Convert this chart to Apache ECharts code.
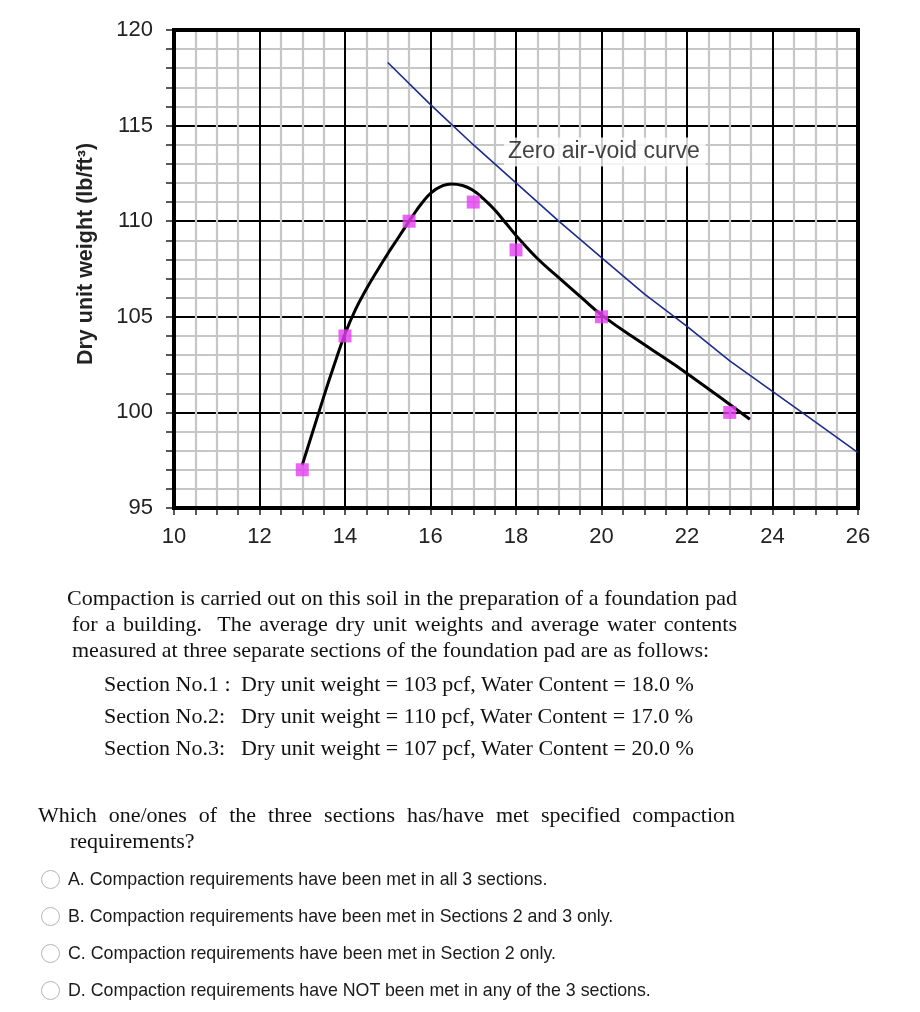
<!DOCTYPE html>
<html>
<head>
<meta charset="utf-8">
<script src="https://cdn.jsdelivr.net/npm/echarts@6/dist/echarts.min.js"></script>
<style>
  html, body { margin: 0; padding: 0; background: #fff; }
  #wrap { position: relative; width: 920px; height: 1012px; overflow: hidden; }
  #chart { position: absolute; left: 0; top: 0; width: 920px; height: 1012px; }
  .t { position: absolute; white-space: nowrap; font-family: "Liberation Serif", "Times New Roman", serif; font-size: 22px; color: #111; line-height: 26px; }
  .j { text-align: justify; text-align-last: justify; white-space: normal; }
  .opt { position: absolute; font-family: "Liberation Sans", Arial, sans-serif; font-size: 17.8px; color: #1a1a1a; white-space: nowrap; line-height: 20px; }
  .radio { position: absolute; width: 19px; height: 19px; border: 1px solid #b5b5b5; border-radius: 50%; box-sizing: border-box; background: #fff; }
</style>
</head>
<body>
<div id="wrap">
  <div id="chart"></div>

  <div class="t j" style="left:67px; top:585px; width:670px;">Compaction is carried out on this soil in the preparation of a foundation pad</div>
  <div class="t j" style="left:72px; top:611px; width:665px;">for a building.&nbsp; The average dry unit weights and average water contents</div>
  <div class="t" style="left:72px; top:637px;">measured at three separate sections of the foundation pad are as follows:</div>

  <div class="t" style="left:104px; top:671px;">Section No.1 :</div>
  <div class="t" style="left:241px; top:671px;">Dry unit weight = 103 pcf, Water Content = 18.0 %</div>
  <div class="t" style="left:104px; top:703px;">Section No.2:</div>
  <div class="t" style="left:241px; top:703px;">Dry unit weight = 110 pcf, Water Content = 17.0 %</div>
  <div class="t" style="left:104px; top:735px;">Section No.3:</div>
  <div class="t" style="left:241px; top:735px;">Dry unit weight = 107 pcf, Water Content = 20.0 %</div>

  <div class="t j" style="left:38px; top:802px; width:697px;">Which one/ones of the three sections has/have met specified compaction</div>
  <div class="t" style="left:70px; top:828px;">requirements?</div>

  <div class="radio" style="left:41px; top:870px;"></div>
  <div class="opt" style="left:68px; top:869px;">A. Compaction requirements have been met in all 3 sections.</div>
  <div class="radio" style="left:41px; top:907px;"></div>
  <div class="opt" style="left:68px; top:906px;">B. Compaction requirements have been met in Sections 2 and 3 only.</div>
  <div class="radio" style="left:41px; top:944px;"></div>
  <div class="opt" style="left:68px; top:943px;">C. Compaction requirements have been met in Section 2 only.</div>
  <div class="radio" style="left:41px; top:981px;"></div>
  <div class="opt" style="left:68px; top:980px;">D. Compaction requirements have NOT been met in any of the 3 sections.</div>
</div>

<script>
// ---- data ----
const testWater = [13, 14, 15.5, 17, 18, 20, 23];
const testDry   = [97, 104, 110, 111, 108.5, 105, 100];

const curveWater = [13.0, 13.5, 13.75, 14.0, 14.25, 14.5, 14.75, 15.0, 15.25, 15.56, 15.8, 16.02, 16.25, 16.49, 16.75, 17.0, 17.25, 17.5, 17.78, 18.1, 18.5, 19.0, 19.5, 20.03, 21.0, 22.05, 23.47];
const curveDry   = [97.25, 100.8, 102.5, 104.1, 105.4, 106.45, 107.4, 108.3, 109.15, 110.2, 110.95, 111.5, 111.82, 111.95, 111.87, 111.6, 111.15, 110.6, 109.85, 109.0, 108.05, 107.05, 106.07, 105.05, 103.55, 101.96, 99.64];

const zavWater = [15, 16, 17, 18, 19, 20, 21, 22, 23, 24, 25, 26];
const zavDry   = [118.3, 116.1, 114.0, 112.0, 110.0, 108.1, 106.2, 104.5, 102.7, 101.1, 99.5, 97.9];

const zavLabel = { text: 'Zero air-void curve', water: 17.72, dry: 113.62 };
const yAxisTitle = 'Dry unit weight (lb/ft\u00B3)';

const pairs = (xs, ys) => xs.map((x, i) => [x, ys[i]]);

const chart = echarts.init(document.getElementById('chart'), null, { renderer: 'canvas' });
const FONT = '"Liberation Sans", Arial, sans-serif';

chart.setOption({
  animation: false,
  backgroundColor: '#fff',
  grid: { left: 174, right: 62, top: 30, bottom: 504, show: true, borderColor: '#000', borderWidth: 4, backgroundColor: 'transparent', z: 3 },
  graphic: [{
    type: 'text', x: 86, y: 254, rotation: Math.PI / 2,
    style: { text: yAxisTitle, align: 'center', verticalAlign: 'middle', fill: '#222',
             font: 'bold 21.5px "Liberation Sans", Arial, sans-serif' }
  }],
  xAxis: {
    type: 'value', min: 10, max: 26, interval: 2,
    axisLine: { show: true, lineStyle: { color: '#000', width: 4 } },
    axisTick: { show: true, length: 7, lineStyle: { color: '#222', width: 1.5 } },
    minorTick: { show: true, splitNumber: 4, length: 7, lineStyle: { color: '#222', width: 1.5 } },
    axisLabel: { fontSize: 22, color: '#222', margin: 18, fontFamily: FONT },
    splitLine: { show: true, lineStyle: { color: '#000', width: 2 } },
    minorSplitLine: { show: true, lineStyle: { color: '#c6c6c6', width: 2.2 } }
  },
  yAxis: {
    type: 'value', min: 95, max: 120, interval: 5,
    axisLine: { show: true, lineStyle: { color: '#000', width: 4 } },
    axisTick: { show: true, length: 8, lineStyle: { color: '#222', width: 1.5 } },
    minorTick: { show: true, splitNumber: 5, length: 8, lineStyle: { color: '#222', width: 1.5 } },
    axisLabel: { fontSize: 22, color: '#222', margin: 21, fontFamily: FONT },
    splitLine: { show: true, lineStyle: { color: '#000', width: 2 } },
    minorSplitLine: { show: true, lineStyle: { color: '#c6c6c6', width: 2.2 } }
  },
  series: [
    {
      type: 'line', data: pairs(zavWater, zavDry), smooth: false, showSymbol: false,
      lineStyle: { color: '#1c2c8c', width: 1.6 }, z: 4
    },
    {
      type: 'line', data: pairs(curveWater, curveDry), smooth: 0.5, showSymbol: false,
      lineStyle: { color: '#000', width: 3 }, z: 5
    },
    {
      type: 'scatter', data: pairs(testWater, testDry), symbol: 'rect', symbolSize: 13,
      itemStyle: { color: '#e63ef2' }, z: 6
    },
    {
      type: 'scatter', data: [[zavLabel.water, zavLabel.dry]], symbolSize: 0, z: 7,
      label: {
        show: true, position: 'right', distance: 0, formatter: zavLabel.text,
        fontSize: 23, color: '#111', fontFamily: FONT,
        backgroundColor: '#fff', padding: [3, 6, 3, 4]
      }
    }
  ]
});
</script>
</body>
</html>
